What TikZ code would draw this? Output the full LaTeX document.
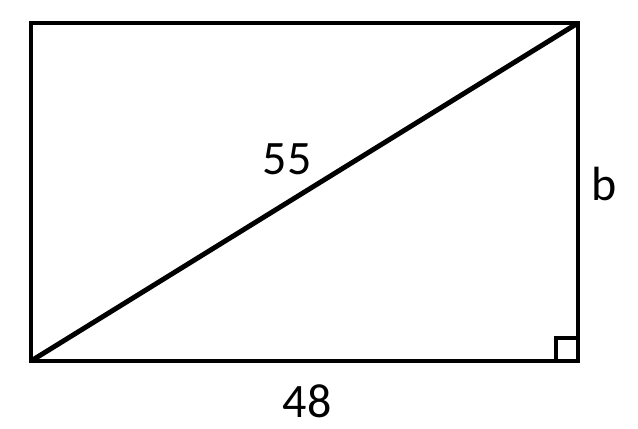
\documentclass[tikz,border=0pt]{standalone}
\usepackage{fontspec}
\setmainfont{Carlito}
\begin{document}
\begin{tikzpicture}[x=0.75pt, y=-0.75pt, line width=3.7pt, font=\fontsize{36}{42}\selectfont,
	every node/.style={inner sep=0pt}]
	\useasboundingbox (0,0) rectangle (638,428);
	%corners
	\coordinate (bl) at (31,361);
	\coordinate (br) at (578,361);
	\coordinate (tr) at (578,23);
	\coordinate (tl) at (31,23);
	%rectangle and diagonal
	\draw (bl) -- (br) -- (tr) -- (tl) -- cycle;
	\draw (bl) -- (tr);
	%right angle
	\draw (br) ++(-22,0) coordinate (ra1) -- ++(0,-23) coordinate (ra2) -- ++(22,0);
	%labels
	\node (diag) at (287,159) {55};
	\node (side) at (604,184) {b};
	\node (base) at (307,401) {48};
\end{tikzpicture}
\end{document}
